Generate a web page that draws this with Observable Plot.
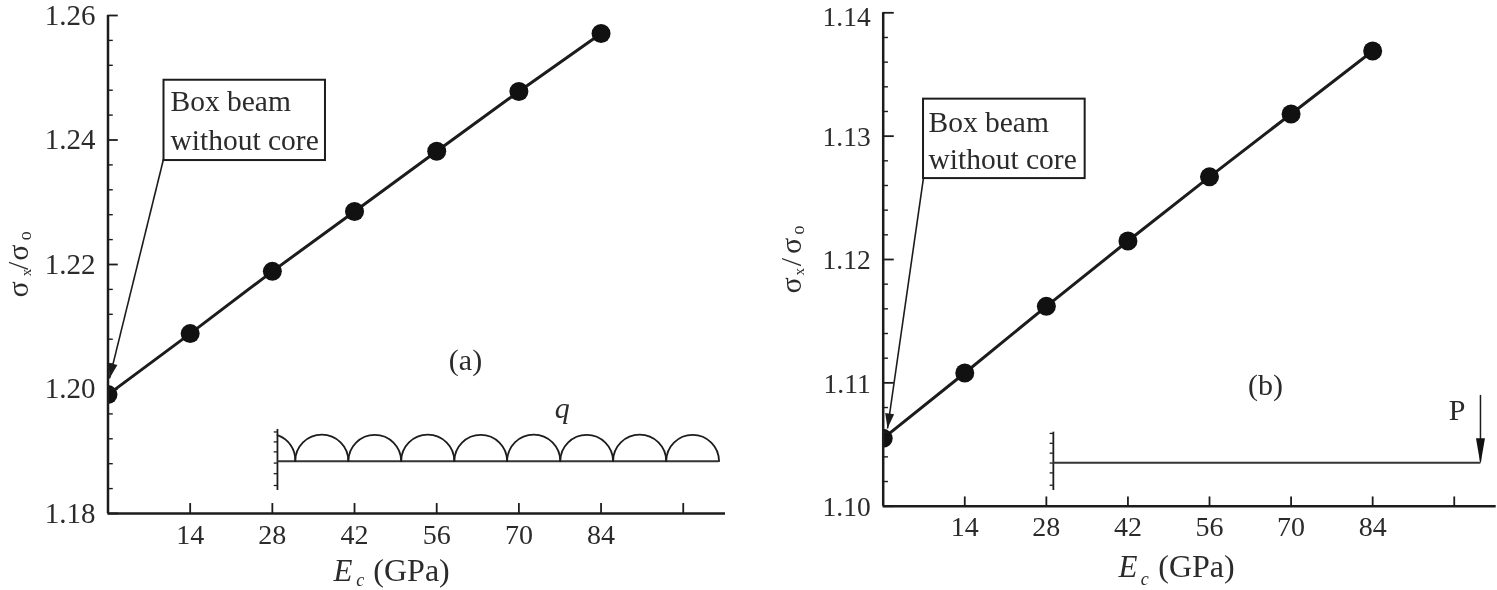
<!DOCTYPE html>
<html>
<head>
<meta charset="utf-8">
<script src="https://cdn.jsdelivr.net/npm/d3@7"></script>
<script src="https://cdn.jsdelivr.net/npm/@observablehq/plot@0.6"></script>
<style>
  html, body { margin: 0; padding: 0; background: #fff; }
  #chart { position: relative; width: 1497px; height: 590px; overflow: hidden; }
  #chart svg { position: absolute; top: 0; filter: blur(0.45px); }
</style>
</head>
<body>
<div id="chart"></div>
<script>
// ---- shared x data ----
const modulus = [0, 14, 28, 42, 56, 70, 84];
const xTickValues = [14, 28, 42, 56, 70, 84, 98];
const xLabelled = [14, 28, 42, 56, 70, 84];

// ---- panel (a) ----
const stressA = [1.1991, 1.2089, 1.2189, 1.2285, 1.2382, 1.2478, 1.2571];
const yMajorA = [1.18, 1.20, 1.22, 1.24, 1.26];
const yMinorA = [1.184, 1.188, 1.192, 1.196, 1.204, 1.208, 1.212, 1.216, 1.224, 1.228, 1.232, 1.236, 1.244, 1.248, 1.252, 1.256];
const loadBreaksA = [31.9, 40.95, 49.95, 59, 68, 77.05, 86.05, 95.1, 104.1];
const wallHatchA = [1.1931, 1.1915, 1.1899, 1.1881, 1.1864, 1.1845];

// ---- panel (b) ----
const stressB = [1.1055, 1.1108, 1.1162, 1.1215, 1.1267, 1.1318, 1.1369];
const yMajorB = [1.10, 1.11, 1.12, 1.13, 1.14];
const yMinorB = [1.102, 1.104, 1.106, 1.108, 1.112, 1.114, 1.116, 1.118, 1.122, 1.124, 1.126, 1.128, 1.132, 1.134, 1.136, 1.138];
const wallHatchB = [1.1059, 1.1051, 1.1043, 1.1035, 1.1027, 1.1017];

const INK = "#1c1c1c";
const TEXT = "#2b2b2b";
const SERIF = "'Liberation Serif', serif";
const headShape = {
  draw(ctx, l) {
    ctx.moveTo(0, -l);
    ctx.lineTo(-4.5, 0);
    ctx.lineTo(4.5, 0);
    ctx.closePath();
  }
};

function panel(cfg) {
  const t = (str, x, y, extra = {}) =>
    Plot.text([str], {
      x: () => x, y: () => y, text: d => d,
      fontFamily: SERIF, fontSize: 28, fill: TEXT, ...extra
    });
  const yLabel = (str, y, dx, size) =>
    Plot.text([str], {
      y: () => y, text: d => d, frameAnchor: "left", textAnchor: "middle", dx, rotate: -90,
      lineAnchor: "bottom", fontFamily: SERIF, fontSize: size, fill: TEXT
    });
  const yAxis = (values, dy) =>
    Plot.axisY(values, { anchor: "left", tickSize: 0, tickPadding: 12.5, dy, label: null, tickFormat: d3.format(".2f"), fontSize: cfg.yFont, fontFamily: SERIF, fill: TEXT });
  const rows = modulus.map((m, i) => ({ m, s: cfg.stress[i] }));
  const marks = [
    // data
    Plot.line(rows, { x: "m", y: "s", stroke: INK, strokeWidth: 3, clip: "frame" }),
    Plot.dot(rows, { x: "m", y: "s", r: 9.5, fill: "#111", clip: "frame" }),
    // frame lines and ticks
    Plot.ruleX([0], { y1: cfg.yDomain[0], y2: cfg.yDomain[1], stroke: INK, strokeWidth: 2.5 }),
    Plot.ruleY([cfg.yDomain[0]], { x1: 0, x2: cfg.xMax, stroke: INK, strokeWidth: 2.5 }),
    Plot.ruleY(cfg.yMajor, { x1: 0, x2: cfg.majorLen, y: d => d, stroke: INK, strokeWidth: 1.8 }),
    Plot.ruleY(cfg.yMinor, { x1: 0, x2: cfg.minorLen, y: d => d, stroke: INK, strokeWidth: 1.4 }),
    Plot.ruleX(xTickValues, { x: d => d, y1: cfg.yDomain[0], y2: cfg.yDomain[0] + cfg.xTickLen, stroke: INK, strokeWidth: 1.8 }),
    Plot.axisX(xLabelled, { anchor: "bottom", tickSize: 0, tickPadding: cfg.xPad, label: null, fontSize: 28, fontFamily: SERIF, fill: TEXT }),
    yAxis(cfg.yMajor.slice(0, -1), cfg.yLabelDy),
    yAxis(cfg.yMajor.slice(-1), cfg.yTopDy),
    // callout
    Plot.rect([0], { x1: () => cfg.box[0], x2: () => cfg.box[1], y1: () => cfg.box[2], y2: () => cfg.box[3], fill: "white", stroke: INK, strokeWidth: 2 }),
    t("Box beam", cfg.boxText[0], cfg.boxText[1], { textAnchor: "start", fontSize: 29.5 }),
    t("without core", cfg.boxText[0], cfg.boxText[2], { textAnchor: "start", fontSize: 29.5 }),
    Plot.link([0], { x1: () => cfg.lead[0], y1: () => cfg.lead[1], x2: () => cfg.lead[2], y2: () => cfg.lead[3], stroke: INK, strokeWidth: 1.6 }),
    Plot.vector([0], { x: () => cfg.lead[2], y: () => cfg.lead[3], length: 15, rotate: cfg.leadAngle, anchor: "end", shape: headShape, fill: INK, stroke: "none" }),
    // axis titles
    t("E", cfg.xTitle[0], cfg.xTitle[3], { textAnchor: "start", fontStyle: "italic", fontSize: 31, lineAnchor: "bottom" }),
    t("c", cfg.xTitle[1], cfg.xTitle[4], { textAnchor: "start", fontStyle: "italic", fontSize: 18, lineAnchor: "bottom" }),
    t("(GPa)", cfg.xTitle[2], cfg.xTitle[3], { textAnchor: "start", fontSize: 32, lineAnchor: "bottom" }),
    yLabel("σ", cfg.yTitle[0], cfg.yTitleDx, 30),
    yLabel("x", cfg.yTitle[1], cfg.yTitleDx + 3, 15),
    yLabel("/", cfg.yTitle[2], cfg.yTitleDx, 30),
    yLabel("σ", cfg.yTitle[3], cfg.yTitleDx, 30),
    yLabel("o", cfg.yTitle[4], cfg.yTitleDx + 3, 18),
    // panel label
    t(cfg.tag, cfg.tagPos[0], cfg.tagPos[1], { fontSize: 30 }),
    // cantilever wall
    Plot.ruleX([cfg.wallX], { y1: cfg.wallY[0], y2: cfg.wallY[1], stroke: INK, strokeWidth: 1.8 }),
    Plot.ruleY(cfg.hatch, { x1: cfg.wallX - 0.55, x2: cfg.wallX, y: d => d, stroke: INK, strokeWidth: 1.3 }),
    Plot.ruleY([cfg.beamY], { x1: cfg.wallX, x2: cfg.beamEnd, stroke: "#333", strokeWidth: 2 })
  ];
  return Plot.plot({
    width: cfg.width, height: 590,
    marginLeft: cfg.marginLeft, marginRight: cfg.marginRight,
    marginTop: cfg.marginTop, marginBottom: cfg.marginBottom,
    x: { domain: [0, cfg.xMax], axis: null },
    y: { domain: cfg.yDomain, axis: null },
    style: { background: "transparent", overflow: "visible" },
    marks: marks.concat(cfg.extra(t))
  });
}

const configA = {
  width: 750, marginLeft: 107.5, marginRight: 25, marginTop: 15, marginBottom: 77,
  stress: stressA, yDomain: [1.18, 1.26], xMax: 105.2, yMajor: yMajorA, yMinor: yMinorA,
  majorLen: 1.75, minorLen: 0.9, xTickLen: 0.0016, xPad: 11, yFont: 29, yLabelDy: 0, yTopDy: 0,
  box: [9.54, 37.05, 1.2496, 1.2367], boxText: [10.64, 1.2461, 1.2399],
  lead: [9.45, 1.2369, 0.25, 1.2017], leadAngle: 193.7,
  xTitle: [38.4, 42.3, 45.2, 1.1691, 1.1683],
  yTitle: [1.2160, 1.2187, 1.2198, 1.2219, 1.2246], yTitleDx: -80.5,
  tag: "(a)", tagPos: [60.9, 1.2046],
  wallX: 28.87, wallY: [1.1935, 1.1837], hatch: wallHatchA, beamY: 1.1884, beamEnd: 104.1,
  extra: t => [
    t("q", 77.4, 1.1969, { fontStyle: "italic", fontSize: 30 }),
    Plot.arrow([0], { x1: 28.87, y1: 1.1926, x2: loadBreaksA[0], y2: 1.1884, bend: 37, headLength: 0, stroke: INK, strokeWidth: 1.8 }),
    Plot.arrow(d3.pairs(loadBreaksA), { x1: d => d[0], x2: d => d[1], y1: 1.1884, y2: 1.1884, bend: 90, headLength: 0, stroke: INK, strokeWidth: 1.8 })
  ]
};

const configB = {
  width: 747, marginLeft: 132.7, marginRight: 1.3, marginTop: 12.3, marginBottom: 84.3,
  stress: stressB, yDomain: [1.10, 1.14], xMax: 105.2, yMajor: yMajorB, yMinor: yMinorB,
  majorLen: 1.9, minorLen: 0.9, xTickLen: 0.00075, xPad: 10, yFont: 27.5, yLabelDy: 1, yTopDy: 4,
  box: [6.92, 34.66, 1.1330, 1.12656], boxText: [7.77, 1.1311, 1.1281],
  lead: [6.9, 1.12658, 0.74, 1.1063], leadAngle: 188.2,
  xTitle: [40.4, 44.2, 47.2, 1.09422, 1.09365],
  yTitle: [1.1179, 1.1190, 1.1198, 1.1211, 1.1224], yTitleDx: -82,
  tag: "(b)", tagPos: [65.6, 1.1098],
  wallX: 29.2, wallY: [1.1060, 1.10127], hatch: wallHatchB, beamY: 1.10352, beamEnd: 102.5,
  extra: t => [
    t("P", 98.5, 1.1078, { fontSize: 30 }),
    Plot.ruleX([102.5], { y1: 1.10898, y2: 1.1036, stroke: INK, strokeWidth: 1.5 }),
    Plot.vector([0], { x: () => 102.5, y: () => 1.1034, length: 26, rotate: 180, anchor: "end", shape: headShape, fill: "#111", stroke: "none" })
  ]
};

const host = document.getElementById("chart");
const a = panel(configA); a.style.left = "0px"; host.append(a);
const b = panel(configB); b.style.left = "750px"; host.append(b);
</script>
</body>
</html>
